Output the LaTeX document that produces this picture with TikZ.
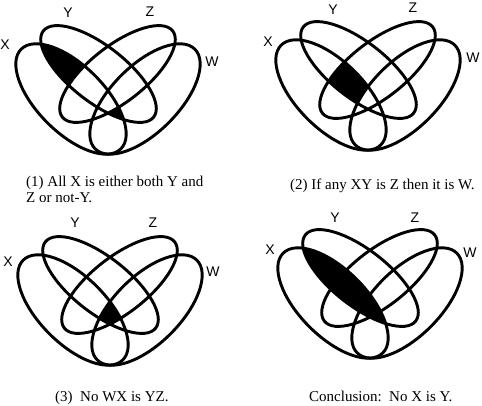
\documentclass[tikz,border=0pt]{standalone}
\usepackage{fontspec}
\setmainfont{Liberation Serif}
\newfontfamily\lsans{Liberation Sans}
\begin{document}
\begin{tikzpicture}[x=1pt,y=-1pt,
  eX/.style={shift={(-37,-55)}, rotate=-45},
  eY/.style={shift={(-9.5,-80)}, rotate=-38},
  eZ/.style={shift={(9.5,-80)}, rotate=38},
  eW/.style={shift={(37,-55)}, rotate=45},
  ring/.style={line width=2.9pt},
  lab/.style={font=\lsans\fontsize{14}{16}\selectfont, inner sep=0pt},
  captext/.style={font=\fontsize{15}{18}\selectfont, inner sep=0pt, anchor=base west}]
\def\aX{70.5}\def\bX{33.5}\def\aY{70}\def\bY{28}
\newcommand\ellX{(0,0) ellipse [x radius=\aX, y radius=\bX]}
\newcommand\ellY{(0,0) ellipse [x radius=\aY, y radius=\bY]}
\newcommand\bigR{(-3000,-3000) rectangle (3000,3000)}
\newcommand\rings{%
  \draw[ring,eX] \ellX; \draw[ring,eW] \ellX;
  \draw[ring,eY] \ellY; \draw[ring,eZ] \ellY;}
\useasboundingbox (0,0) rectangle (482,405);
% Diagram 1
\begin{scope}[shift={(108,154)}]
  \begin{scope}[even odd rule]
    \clip[eX] \ellX; \clip[eY] \ellY; \clip[eZ] \ellY \bigR;
    \fill \bigR;
  \end{scope}
  \rings
\end{scope}
% Diagram 2
\begin{scope}[shift={(368,150)}]
  \begin{scope}[even odd rule]
    \clip[eX] \ellX; \clip[eY] \ellY; \clip[eZ] \ellY; \clip[eW] \ellX \bigR;
    \fill \bigR;
  \end{scope}
  \rings
\end{scope}
% Diagram 3
\begin{scope}[shift={(110,365)}]
  \begin{scope}
    \clip[eX] \ellX; \clip[eY] \ellY; \clip[eZ] \ellY; \clip[eW] \ellX;
    \fill \bigR;
  \end{scope}
  \rings
\end{scope}
% Diagram 4
\begin{scope}[shift={(370,358)}]
  \begin{scope}
    \clip[eX] \ellX; \clip[eY] \ellY;
    \fill \bigR;
  \end{scope}
  \rings
\end{scope}
% labels
\node[lab] (x1) at (5,45) {X};   \node[lab] (y1) at (68,13) {Y};
\node[lab] (z1) at (150,12) {Z}; \node[lab] (w1) at (212,62) {W};
\node[lab] (x2) at (268,42) {X}; \node[lab] (y2) at (333,10) {Y};
\node[lab] (z2) at (413,8) {Z};  \node[lab] (w2) at (473,58) {W};
\node[lab] (x3) at (8,262) {X};  \node[lab] (y3) at (75,223) {Y};
\node[lab] (z3) at (153,223) {Z};\node[lab] (w3) at (213,272) {W};
\node[lab] (x4) at (270,250) {X};\node[lab] (y4) at (335,218) {Y};
\node[lab] (z4) at (415,218) {Z};\node[lab] (w4) at (470,253) {W};
% captions
\node[captext] (c1a) at (26,186) {(1) All X is either both Y and};
\node[captext] (c1b) at (26,202) {Z or not-Y.};
\node[captext] (c2) at (290,189) {(2) If any XY is Z then it is W.};
\node[captext] (c3) at (55,401) {(3)\ \ No WX is YZ.};
\node[captext] (c4) at (309,401) {Conclusion:\ \ No X is Y.};
\end{tikzpicture}
\end{document}
